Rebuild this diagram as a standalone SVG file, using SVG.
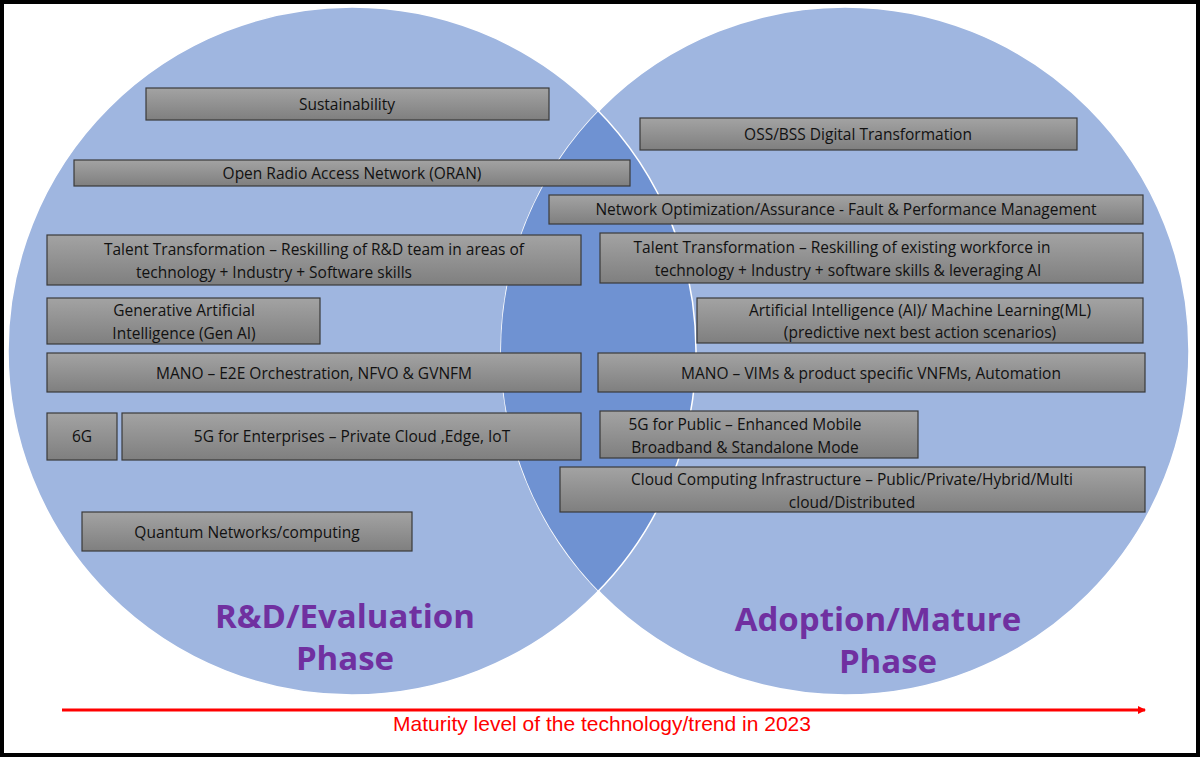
<svg xmlns="http://www.w3.org/2000/svg" width="1200" height="757" viewBox="0 0 1200 757">
<defs>
<linearGradient id="g" x1="0" y1="0" x2="0" y2="1"><stop offset="0" stop-color="#a3a3a3"/><stop offset="1" stop-color="#7f7f7f"/></linearGradient>
<clipPath id="cl"><circle cx="352" cy="351" r="344"/></clipPath>
<marker id="ah" markerWidth="8" markerHeight="8" refX="7" refY="4" orient="auto" markerUnits="userSpaceOnUse"><path d="M0,0 L8,4 L0,8 Z" fill="#ff0000"/></marker>
<style>
.b{fill:url(#g);stroke:#3a3a3a;stroke-width:1.2}
.t{font-family:"Open Sans",sans-serif;font-size:15.5px;fill:#111;text-anchor:middle}
.p{font-family:"Open Sans",sans-serif;font-size:33px;font-weight:bold;fill:#7030a0;text-anchor:middle}
</style>
</defs>
<rect x="2" y="2" width="1196" height="753" fill="#fff" stroke="#000" stroke-width="4"/>
<g id="circles">
<circle cx="352" cy="351" r="344" fill="#9fb6e0"/>
<circle cx="845" cy="351" r="344" fill="#9fb6e0" stroke="#fff" stroke-width="1.5"/>
<circle cx="845" cy="351" r="344" fill="#6f92d2" clip-path="url(#cl)"/>
<circle cx="352" cy="351" r="344" fill="none" stroke="#fff" stroke-width="1.5"/>
</g>
<g id="n1"><rect class="b" x="146" y="88" width="403" height="32"/><text class="t" x="347" y="110">Sustainability</text></g>
<g id="n2"><rect class="b" x="74" y="160" width="556" height="26"/><text class="t" x="352" y="179">Open Radio Access Network (ORAN)</text></g>
<g id="n3"><rect class="b" x="47" y="235" width="534" height="50"/><text class="t" x="314" y="255">Talent Transformation – Reskilling of R&amp;D team in areas of</text><text class="t" x="274" y="278">technology + Industry + Software skills</text></g>
<g id="n4"><rect class="b" x="47" y="298" width="273" height="46"/><text class="t" x="184" y="316">Generative Artificial</text><text class="t" x="184" y="339">Intelligence (Gen AI)</text></g>
<g id="n5"><rect class="b" x="47" y="353" width="534" height="39"/><text class="t" x="314" y="379">MANO – E2E Orchestration, NFVO &amp; GVNFM</text></g>
<g id="n6"><rect class="b" x="47" y="413" width="70" height="47"/><text class="t" x="82" y="442">6G</text></g>
<g id="n7"><rect class="b" x="122" y="413" width="459" height="47"/><text class="t" x="352" y="442">5G for Enterprises – Private Cloud ,Edge, IoT</text></g>
<g id="n8"><rect class="b" x="82" y="512" width="330" height="39"/><text class="t" x="247" y="538">Quantum Networks/computing</text></g>
<g id="n9"><rect class="b" x="640" y="118" width="437" height="32"/><text class="t" x="858" y="140">OSS/BSS Digital Transformation</text></g>
<g id="n10"><rect class="b" x="549" y="195" width="594" height="29"/><text class="t" x="846" y="215">Network Optimization/Assurance - Fault &amp; Performance Management</text></g>
<g id="n11"><rect class="b" x="600" y="233" width="543" height="50"/><text class="t" x="842" y="253">Talent Transformation – Reskilling of existing workforce in</text><text class="t" x="848" y="276">technology + Industry + software skills &amp; leveraging AI</text></g>
<g id="n12"><rect class="b" x="697" y="298" width="446" height="45"/><text class="t" x="920" y="316">Artificial Intelligence (AI)/ Machine Learning(ML)</text><text class="t" x="920" y="338">(predictive next best action scenarios)</text></g>
<g id="n13"><rect class="b" x="598" y="353" width="547" height="39"/><text class="t" x="871" y="379">MANO – VIMs &amp; product specific VNFMs, Automation</text></g>
<g id="n14"><rect class="b" x="600" y="411" width="318" height="47"/><text class="t" x="745" y="430">5G for Public – Enhanced Mobile</text><text class="t" x="745" y="453">Broadband &amp; Standalone Mode</text></g>
<g id="n15"><rect class="b" x="560" y="467" width="585" height="45"/><text class="t" x="852" y="485">Cloud Computing Infrastructure – Public/Private/Hybrid/Multi</text><text class="t" x="852" y="508">cloud/Distributed</text></g>
<g id="labels">
<text class="p" x="345" y="628">R&amp;D/Evaluation</text><text class="p" x="345" y="670">Phase</text>
<text class="p" x="878" y="631">Adoption/Mature</text><text class="p" x="888" y="673">Phase</text>
</g>
<g id="connectors">
<line x1="62" y1="710" x2="1145" y2="710" stroke="#ff0000" stroke-width="3" marker-end="url(#ah)"/>
</g>
<text x="602" y="731" font-family="Liberation Sans Narrow, Liberation Sans, sans-serif" font-size="21" fill="#ff0000" text-anchor="middle">Maturity level of the technology/trend in 2023</text>
</svg>
